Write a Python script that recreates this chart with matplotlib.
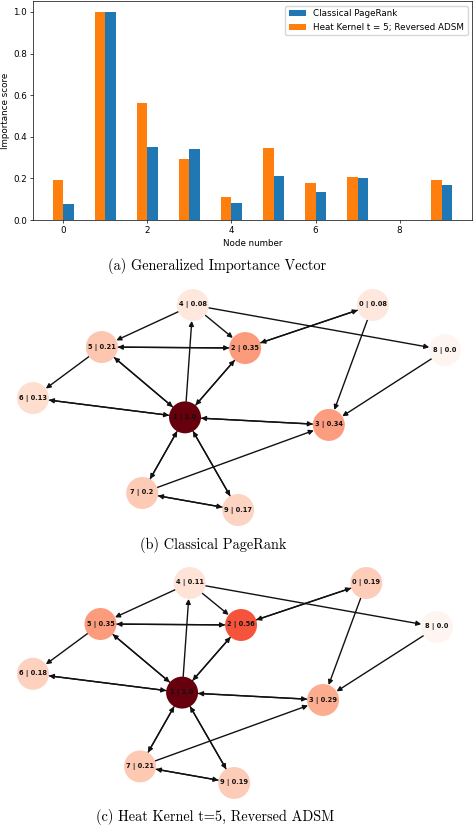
import matplotlib
matplotlib.use('Agg')
import matplotlib.pyplot as plt
from matplotlib.patches import FancyArrowPatch
import numpy as np

# importance scores per node (0..9)
nodes = list(range(10))
pagerank = [0.078, 1.0, 0.349, 0.340, 0.080, 0.213, 0.134, 0.200, 0.0, 0.168]
heat_kernel = [0.191, 1.0, 0.560, 0.293, 0.112, 0.346, 0.178, 0.206, 0.0, 0.193]

# directed edges of the graph
edges = [(4, 5), (4, 2), (4, 8), (1, 4), (5, 2), (2, 5), (0, 2), (2, 0),
         (0, 3), (8, 3), (5, 6), (5, 1), (1, 5), (2, 1), (1, 2), (6, 1),
         (1, 6), (1, 3), (3, 1), (1, 7), (7, 1), (1, 9), (9, 1), (7, 3),
         (7, 9), (9, 7)]

# node layout (normalised, like a networkx layout)
layout = {0: (0.825, 1.0), 1: (0.369, 0.452), 2: (0.515, 0.79),
          3: (0.718, 0.415), 4: (0.388, 1.0), 5: (0.167, 0.795),
          6: (0.0, 0.546), 7: (0.265, 0.083), 8: (1.0, 0.78), 9: (0.498, 0.0)}

W, H = 474, 827
plt.rcParams['font.size'] = 6.3
plt.rcParams['axes.linewidth'] = 0.5
plt.rcParams['xtick.major.width'] = 0.5
plt.rcParams['ytick.major.width'] = 0.5
plt.rcParams['xtick.major.size'] = 2.2
plt.rcParams['ytick.major.size'] = 2.2
plt.rcParams['xtick.major.pad'] = 2.2
plt.rcParams['ytick.major.pad'] = 2.2

fig = plt.figure(figsize=(W / 100, H / 100), dpi=100)

# (a) bar chart
ax = fig.add_axes([33 / W, 1 - 220 / H, 439 / W, 218.5 / H])
x = np.arange(len(nodes))
ax.bar(x + 0.125, pagerank, 0.25, color='#1f77b4', label='Classical PageRank')
ax.bar(x - 0.125, heat_kernel, 0.25, color='#ff7f0e',
       label='Heat Kernel t = 5; Reversed ADSM')
ax.set_xlabel('Node number', labelpad=2.5)
ax.set_ylabel('Importance score', labelpad=2.5)
ax.legend(loc='upper right', fancybox=True, framealpha=0.8)


def draw_graph(px_box, mapping, scores):
    # px_box: left, top, right, bottom in pixels; mapping: x0, xs, y0, ys
    left, top, right, bottom = px_box
    x0, xs, y0, ys = mapping
    g = fig.add_axes([left / W, 1 - bottom / H, (right - left) / W, (bottom - top) / H])
    g.set_xlim((left - x0) / xs, (right - x0) / xs)
    g.set_ylim((y0 - bottom) / ys, (y0 - top) / ys)
    g.axis('off')
    for a, b in edges:
        arr = FancyArrowPatch(layout[a], layout[b], arrowstyle='-|>',
                              mutation_scale=7, lw=1.0, color='#111111',
                              shrinkA=11.5, shrinkB=11.5, zorder=1)
        g.add_patch(arr)
    xy = np.array([layout[n] for n in nodes])
    g.scatter(xy[:, 0], xy[:, 1], s=530, c=scores, cmap='Reds', vmin=0, vmax=1,
              zorder=2, linewidths=0)
    for n in nodes:
        g.text(layout[n][0], layout[n][1], f'{n} | {round(scores[n], 2)}',
               ha='center', va='center', fontsize=4.8, fontweight='bold',
               color='#111111', zorder=3)


draw_graph((0, 282, W, 532), (33, 412, 510, 205), pagerank)
draw_graph((0, 560, W, 805), (33, 404, 783, 200), heat_kernel)

cap = dict(ha='center', va='center', family='cmr10', fontsize=10.3)
fig.text(217 / W, 1 - 266 / H, '(a) Generalized Importance Vector', **cap)
fig.text(213 / W, 1 - 545 / H, '(b) Classical PageRank', **cap)
fig.text(215 / W, 1 - 817 / H, '(c) Heat Kernel t=5, Reversed ADSM', **cap)

fig.savefig('out.png', dpi=100)
